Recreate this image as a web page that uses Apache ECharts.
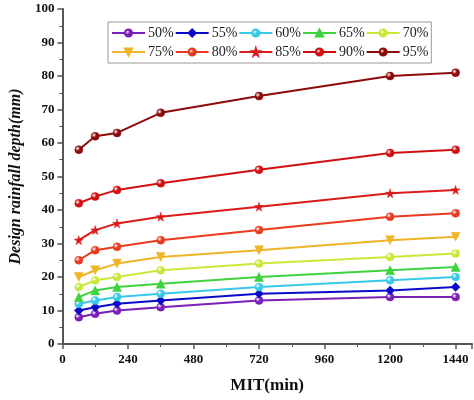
<!DOCTYPE html>
<html>
<head>
<meta charset="utf-8">
<script src="https://cdn.jsdelivr.net/npm/echarts@6/dist/echarts.min.js"></script>
<style>
  html, body { margin: 0; padding: 0; background: #fff; }
  #chart { width: 474px; height: 400px; }
</style>
</head>
<body>
<div id="chart"></div>
<script>
// MIT durations (min)
const mit = [60, 120, 200, 360, 720, 1200, 1440]
const names = ['50%', '55%', '60%', '65%', '70%', '75%', '80%', '85%', '90%', '95%']
// design rainfall depth (mm) per frequency
const p50 = [8, 9, 10, 11, 13, 14, 14]
const p55 = [10, 11, 12, 13, 15, 16, 17]
const p60 = [12, 13, 14, 15, 17, 19, 20]
const p65 = [14, 16, 17, 18, 20, 22, 23]
const p70 = [17, 19, 20, 22, 24, 26, 27]
const p75 = [20, 22, 24, 26, 28, 31, 32]
const p80 = [25, 28, 29, 31, 34, 38, 39]
const p85 = [31, 34, 36, 38, 41, 45, 46]
const p90 = [42, 44, 46, 48, 52, 57, 58]
const p95 = [58, 62, 63, 69, 74, 80, 81]
const values = [p50, p55, p60, p65, p70, p75, p80, p85, p90, p95]

const colors = ['#7a1fb8', '#0a0ac8', '#38c8e8', '#3ed23e', '#c8e83a',
                '#f0b428', '#e83a1e', '#dc1a1a', '#d01010', '#8c0a0a']
const star = 'path://M50,0 L61,35 L98,35 L68,57 L79,91 L50,70 L21,91 L32,57 L2,35 L39,35 Z'
const symbols = ['circle', 'diamond', 'circle', 'triangle', 'circle',
                 'triangle', 'circle', star, 'circle', 'circle']
const rotates = [0, 0, 0, 0, 0, 180, 0, 0, 0, 0]
const sizes = [8, 9, 8, 9, 8, 9, 8, 9, 8, 8]

// shaded ball look for the round markers
function ball(i) {
  const c = colors[i]
  if (symbols[i] !== 'circle') return c
  return new echarts.graphic.RadialGradient(0.35, 0.35, 0.75, [
    { offset: 0, color: '#ffffff' },
    { offset: 0.4, color: c },
    { offset: 1, color: c }
  ])
}

const series = names.map((n, i) => ({
  name: n,
  type: 'line',
  data: mit.map((x, j) => [x, values[i][j]]),
  symbol: symbols[i],
  symbolRotate: rotates[i],
  symbolSize: sizes[i],
  showAllSymbol: true,
  lineStyle: { color: colors[i], width: 2 },
  itemStyle: { color: ball(i), borderColor: colors[i], borderWidth: 0.5 }
}))

const font = '"Liberation Serif", "Times New Roman", serif'
const chart = echarts.init(document.getElementById('chart'))
chart.setOption({
  animation: false,
  color: colors,
  grid: { left: 56, right: 2, top: 9, bottom: 56, containLabel: false },
  legend: {
    data: names,
    left: 108, top: 22, width: 326,
    itemWidth: 33, itemHeight: 9, itemGap: 1,
    padding: [2, 3, 2, 3],
    borderColor: '#999', borderWidth: 1,
    textStyle: { fontFamily: font, fontSize: 14, lineHeight: 18, color: '#222', padding: [0, 0, 0, -2] }
  },
  xAxis: {
    type: 'value', min: 0, max: 1500, interval: 240,
    name: 'MIT(min)', nameLocation: 'middle', nameGap: 33,
    nameTextStyle: { fontFamily: font, fontSize: 17, fontWeight: 'bold', color: '#111' },
    axisLine: { lineStyle: { color: '#555', width: 2 } },
    axisTick: { lineStyle: { color: '#555', width: 1.5 }, length: 5, inside: false },
    minorTick: { show: true, splitNumber: 2, length: 3, lineStyle: { color: '#555' } },
    axisLabel: { showMaxLabel: false, formatter: v => String(v), fontFamily: font, fontSize: 13, fontWeight: 'bold', color: '#111', margin: 9 },
    splitLine: { show: false }
  },
  yAxis: {
    type: 'value', min: 0, max: 100, interval: 10,
    name: 'Design rainfall depth(mm)', nameLocation: 'middle', nameGap: 37,
    nameTextStyle: { fontFamily: font, fontSize: 16, fontWeight: 'bold', fontStyle: 'italic', color: '#111' },
    axisLine: { show: true, lineStyle: { color: '#555', width: 2 } },
    axisTick: { show: true, lineStyle: { color: '#555', width: 1.5 }, length: 5 },
    minorTick: { show: true, splitNumber: 2, length: 3, lineStyle: { color: '#555' } },
    axisLabel: { fontFamily: font, fontSize: 13, fontWeight: 'bold', color: '#111', margin: 8 },
    splitLine: { show: false }
  },
  series: series
})
</script>
</body>
</html>
